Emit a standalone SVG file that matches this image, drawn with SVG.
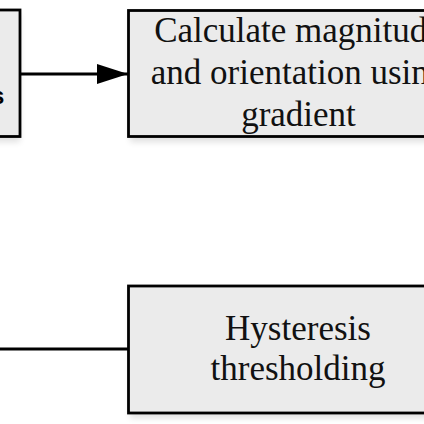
<svg xmlns="http://www.w3.org/2000/svg" width="424" height="424" viewBox="0 0 424 424">
  <style>
    .box { fill: #ebebeb; stroke: #000; stroke-width: 2.8; }
    .lbl { font-family: "Liberation Serif", "Times New Roman", serif; font-size: 35px; fill: #111; text-anchor: middle; }
    .edge { stroke: #000; stroke-width: 2.8; fill: none; }
  </style>
  <defs>
    <filter id="sh" x="-10%" y="-10%" width="120%" height="130%">
      <feGaussianBlur stdDeviation="3"/>
    </filter>
    <marker id="ah" markerUnits="userSpaceOnUse" markerWidth="32" markerHeight="22" refX="31" refY="11" orient="auto">
      <path d="M0,1 L31,11 L0,21 Z" fill="#000"/>
    </marker>
  </defs>
  <rect width="424" height="424" fill="#fff"/>
  <g id="shadows" fill="#000" opacity="0.12" filter="url(#sh)">
    <rect x="-60" y="14" width="80" height="128"/>
    <rect x="130" y="14" width="340" height="128"/>
    <rect x="130" y="290" width="340" height="128"/>
  </g>
  <g id="node-left">
    <rect class="box" x="-60" y="10" width="80" height="126.5"/>
    <text x="-9" y="104" font-family="Liberation Sans, Arial, sans-serif" font-weight="bold" font-size="24" fill="#000">s</text>
  </g>
  <g id="node-gradient">
    <rect class="box" x="128.5" y="10.5" width="340" height="126"/>
    <text class="lbl" x="298.5" y="42">Calculate magnitude</text>
    <text class="lbl" x="298.5" y="84">and orientation using</text>
    <text class="lbl" x="298.5" y="126">gradient</text>
  </g>
  <g id="node-hysteresis">
    <rect class="box" x="128.5" y="286" width="340" height="127"/>
    <text class="lbl" x="298" y="340">Hysteresis</text>
    <text class="lbl" x="298" y="380">thresholding</text>
  </g>
  <g id="connectors">
    <line class="edge" x1="20" y1="74" x2="128" y2="74" marker-end="url(#ah)"/>
    <line class="edge" x1="0" y1="349" x2="128" y2="349"/>
  </g>
</svg>
